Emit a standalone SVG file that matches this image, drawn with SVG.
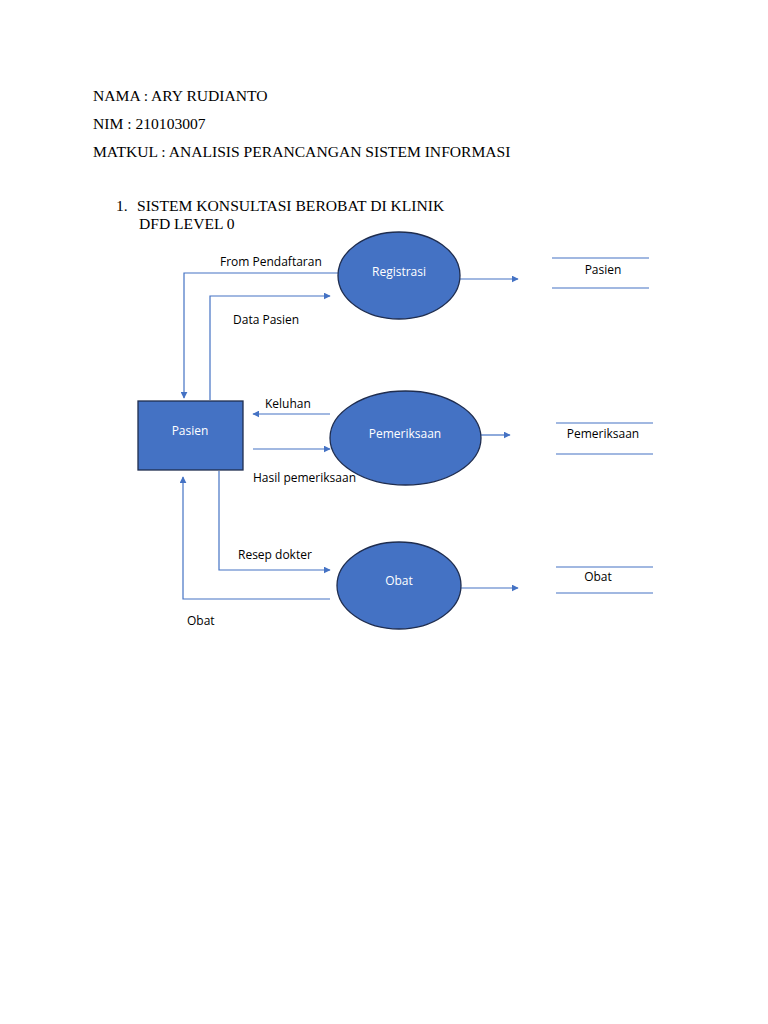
<svg xmlns="http://www.w3.org/2000/svg" width="768" height="1024" viewBox="0 0 768 1024">
<style>
.hdr{font-family:"Liberation Serif",serif;font-size:15.6px;fill:#000}
.lbl{font-family:"Open Sans","Liberation Sans",sans-serif;font-size:12px;fill:#000}
.in{font-family:"Open Sans","Liberation Sans",sans-serif;font-size:12px;fill:#fff;text-anchor:middle}
.shape{fill:#4472C4;stroke:#1f2d4f;stroke-width:1.3}
.flow{fill:none;stroke:#4472C4;stroke-width:1.2}
.store{stroke:#4472C4;stroke-width:1.2}
</style>
<defs>
<marker id="ah" viewBox="0 0 10 10" refX="9" refY="5" markerWidth="7" markerHeight="7" markerUnits="userSpaceOnUse" orient="auto">
<path d="M0,0 L10,5 L0,10 z" fill="#4472C4"/>
</marker>
</defs>
<rect width="768" height="1024" fill="#fff"/>
<g id="header">
<text class="hdr" x="93" y="101">NAMA : ARY RUDIANTO</text>
<text class="hdr" x="93" y="129">NIM : 210103007</text>
<text class="hdr" x="93" y="157">MATKUL : ANALISIS PERANCANGAN SISTEM INFORMASI</text>
<text class="hdr" x="116" y="211">1.</text>
<text class="hdr" x="137" y="211">SISTEM KONSULTASI BEROBAT DI KLINIK</text>
<text class="hdr" x="139" y="229">DFD LEVEL 0</text>
</g>
<g id="connectors">
<polyline class="flow" points="338,273 184,273 184,398" marker-end="url(#ah)"/>
<polyline class="flow" points="210,400 210,296 330,296" marker-end="url(#ah)"/>
<line class="flow" x1="330" y1="414" x2="253" y2="414" marker-end="url(#ah)"/>
<line class="flow" x1="253" y1="449" x2="330" y2="449" marker-end="url(#ah)"/>
<polyline class="flow" points="219,471 219,570 330,570" marker-end="url(#ah)"/>
<polyline class="flow" points="330,599 183,599 183,477" marker-end="url(#ah)"/>
<line class="flow" x1="460" y1="279" x2="518" y2="279" marker-end="url(#ah)"/>
<line class="flow" x1="481" y1="435" x2="510" y2="435" marker-end="url(#ah)"/>
<line class="flow" x1="461" y1="588" x2="518" y2="588" marker-end="url(#ah)"/>
<text class="lbl" x="220" y="266">From Pendaftaran</text>
<text class="lbl" x="233" y="324">Data Pasien</text>
<text class="lbl" x="265" y="408">Keluhan</text>
<text class="lbl" x="253" y="482">Hasil pemeriksaan</text>
<text class="lbl" x="238" y="559">Resep dokter</text>
<text class="lbl" x="187" y="625">Obat</text>
</g>
<g id="registrasi">
<ellipse class="shape" cx="399" cy="275.5" rx="61" ry="43.5"/>
<text class="in" x="399" y="276">Registrasi</text>
</g>
<g id="pasien">
<rect class="shape" x="138" y="401" width="105" height="69"/>
<text class="in" x="190" y="435">Pasien</text>
</g>
<g id="pemeriksaan">
<ellipse class="shape" cx="405.5" cy="438" rx="75.5" ry="47"/>
<text class="in" x="405" y="438">Pemeriksaan</text>
</g>
<g id="obat">
<ellipse class="shape" cx="399" cy="585.5" rx="62" ry="43.5"/>
<text class="in" x="399" y="585">Obat</text>
</g>
<g id="store-pasien">
<line class="store" x1="552" y1="258" x2="649" y2="258"/>
<line class="store" x1="552" y1="288" x2="649" y2="288"/>
<text class="lbl" x="603" y="274" text-anchor="middle">Pasien</text>
</g>
<g id="store-pemeriksaan">
<line class="store" x1="556" y1="423" x2="653" y2="423"/>
<line class="store" x1="556" y1="454" x2="653" y2="454"/>
<text class="lbl" x="603" y="438" text-anchor="middle">Pemeriksaan</text>
</g>
<g id="store-obat">
<line class="store" x1="556" y1="567" x2="653" y2="567"/>
<line class="store" x1="556" y1="593" x2="653" y2="593"/>
<text class="lbl" x="598" y="581" text-anchor="middle">Obat</text>
</g>
</svg>
